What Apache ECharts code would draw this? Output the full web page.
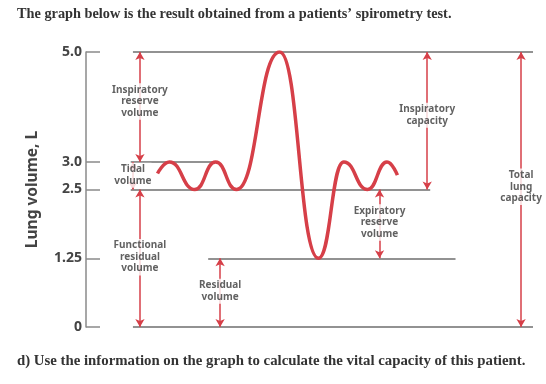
<!DOCTYPE html>
<html>
<head>
<meta charset="utf-8">
<script src="https://cdn.jsdelivr.net/npm/echarts@6/dist/echarts.min.js"></script>
<style>html,body{margin:0;padding:0;background:#fff}#c{width:546px;height:384px}</style>
</head>
<body>
<div id="c"></div>
<script>
// ---- data ----
const titleText = 'The graph below is the result obtained from a patients\u2019 spirometry test.';
const questionText = 'd) Use the information on the graph to calculate the vital capacity of this patient.';
const axisName = 'Lung volume, L';
const yTicks = [0, 1.25, 2.5, 3.0, 5.0];
const yTickLabels = ['0', '1.25', '2.5', '3.0', '5.0'];
// spirometer trace (time units, litres)
const traceTime   = [4.8, 5.6, 7.3, 8.7, 10.1, 13.0, 15.6, 17.3, 18.9, 20.2, 20.9];
const traceVolume = [2.79, 3.0, 2.5, 3.0, 2.5, 5.0, 1.25, 3.0, 2.5, 3.0, 2.76];
// reference levels (litres) and their time extents
const levelVolumes = [5.0, 3.0, 2.5, 1.25, 0];
const levelStart   = [3.15, 3.0, 3.0, 8.2, 3.15];
const levelEnd     = [30, 8.66, 23.1, 24.8, 30];
// annotated volumes/capacities
const annNames = ['Inspiratory\nreserve\nvolume', 'Tidal\nvolume', 'Functional\nresidual\nvolume', 'Residual\nvolume', 'Inspiratory\ncapacity', 'Expiratory\nreserve\nvolume', 'Total\nlung\ncapacity'];
const annLow   = [3.0, 2.5, 0, 0, 2.5, 1.25, 0];
const annHigh  = [5.0, 3.0, 2.5, 1.25, 5.0, 2.5, 5.0];
const annTime  = [3.62, 3.15, 3.62, 9.0, 22.9, 19.7, 29.2];
const annLabelVol = [4.1, 2.76, 1.27, 0.65, 3.85, 1.9, 2.55];

// ---- chart ----
const RED = '#d63f48';
const GREY = '#6e6e6e';
const chart = echarts.init(document.getElementById('c'));

const levelData = levelVolumes.map((v, i) => [
  { coord: [levelStart[i], v] }, { coord: [levelEnd[i], v] }
]);
const arrowData = annNames.map((n, i) => [
  { coord: [annTime[i], annLow[i]] }, { coord: [annTime[i], annHigh[i]] }
]);
const labelData = annNames.map((n, i) => ({ value: [annTime[i], annLabelVol[i]], name: n }));

chart.setOption({
  animation: false,
  backgroundColor: '#fff',
  title: [
    { text: titleText, left: 17, top: 7, padding: 0,
      textStyle: { fontFamily: 'Liberation Serif', fontWeight: 'bold', fontSize: 14.3, color: '#333' } },
    { text: questionText, left: 17, top: 354, padding: 0,
      textStyle: { fontFamily: 'Liberation Serif', fontWeight: 'bold', fontSize: 14.8, color: '#333' } }
  ],
  grid: { left: 86, right: 13, top: 52, bottom: 57 },
  xAxis: { type: 'value', min: 0, max: 30, show: false },
  yAxis: {
    type: 'value', min: 0, max: 5,
    name: axisName, nameLocation: 'middle', nameGap: 45, nameRotate: 90,
    nameTextStyle: { fontFamily: 'Noto Sans', fontWeight: 'bold', fontSize: 15.5, color: '#444' },
    splitLine: { show: false },
    axisLine: { show: true, lineStyle: { color: '#8a8a8a', width: 1.5 } },
    axisTick: { show: true, inside: true, length: 14, customValues: yTicks, lineStyle: { color: '#8a8a8a', width: 1.5 } },
    axisLabel: { customValues: yTicks, margin: 4,
      formatter: v => yTickLabels[yTicks.indexOf(v)] ?? '',
      fontFamily: 'Noto Sans', fontWeight: 'bold', fontSize: 14, color: '#444' }
  },
  series: [
    { type: 'line', data: [], silent: true,
      markLine: { silent: true, symbol: ['none', 'none'], label: { show: false },
        lineStyle: { color: GREY, width: 1.5, type: 'solid' }, data: levelData } },
    { type: 'line', data: [], silent: true,
      markLine: { silent: true, symbol: ['arrow', 'arrow'], symbolSize: [7, 8], label: { show: false },
        lineStyle: { color: RED, width: 1.5, type: 'solid' }, data: arrowData } },
    { type: 'line', data: traceTime.map((t, i) => [t, traceVolume[i]]),
      smooth: 0.5, smoothMonotone: 'x', showSymbol: false, symbol: 'none',
      lineStyle: { color: RED, width: 3.5 }, z: 5 },
    { type: 'scatter', data: labelData, symbolSize: 0, z: 10,
      label: { show: true, position: 'inside', formatter: p => p.name,
        fontFamily: 'Noto Sans', fontWeight: 'bold', fontSize: 10, lineHeight: 11.5, color: '#3a3a3a',
        backgroundColor: '#fff', padding: [1, 0], align: 'center' } }
  ]
});
</script>
</body>
</html>
